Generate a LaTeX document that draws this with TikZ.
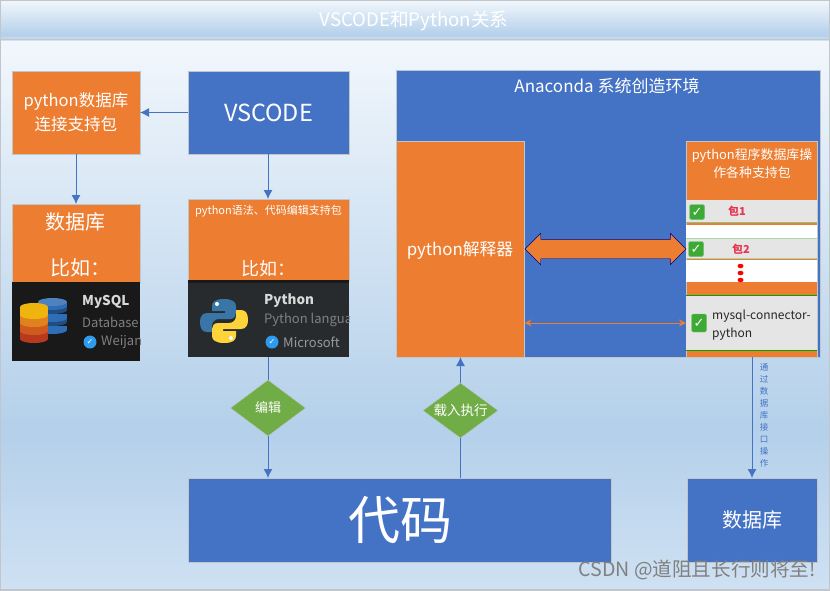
\documentclass[tikz,border=0pt]{standalone}
\usepackage{fontspec}
\usepackage{tikz}
\usetikzlibrary{shapes.geometric,shapes.arrows,arrows.meta}
\setmainfont{Noto Sans CJK SC}
\newfontfamily\symfont{DejaVu Sans}
\definecolor{obar}{HTML}{ED7D31}
\definecolor{bbar}{HTML}{4472C4}
\definecolor{gbar}{HTML}{70AD47}
\definecolor{lline}{HTML}{C0C6CC}
\definecolor{bgtop}{HTML}{F2F7FC}
\definecolor{bgmid}{HTML}{B4D0EA}
\definecolor{bgend}{HTML}{CFE1F3}
\definecolor{icblue}{HTML}{2F6DB5}
\definecolor{icdark}{HTML}{1F4E85}
\definecolor{pyblue}{HTML}{3A75A8}
\definecolor{pyyellow}{HTML}{FFD43B}
\definecolor{icya}{HTML}{EFB40E}
\definecolor{icob}{HTML}{E0821E}
\definecolor{icoc}{HTML}{CF5A1E}
\definecolor{icod}{HTML}{B83A1E}
\definecolor{chkgreen}{HTML}{3DAA35}
\definecolor{pkred}{HTML}{E8344E}
\definecolor{badgeb}{HTML}{2F9BEF}
\newcommand{\pyhalf}{(224,299) .. controls (215,299) and (212,302) .. (212,306) -- (212,311) -- (225,311) -- (225,313) -- (207,313) .. controls (202,313) and (200,317) .. (200,322) .. controls (200,328) and (202,332) .. (207,332) -- (212,332) -- (212,326) .. controls (212,322) and (215,319) .. (219,319) -- (230,319) .. controls (234,319) and (236,316) .. (236,313) -- (236,306) .. controls (236,302) and (232,299) .. (224,299) -- cycle}
\begin{document}
\begin{tikzpicture}[x=1pt,y=-1pt,
    fs/.style 2 args={font=\fontsize{#1}{#2}\selectfont},
    box/.style={draw=lline,text=white,align=center,inner sep=0pt,outer sep=0pt},
    onode/.style={box,fill=obar},
    bnode/.style={box,fill=bbar},
    dnode/.style={diamond,draw=lline,fill=gbar,inner sep=0pt,outer sep=0pt,minimum width=75pt,minimum height=56pt},
    rnode/.style={fill=#1,inner sep=0pt,outer sep=0pt,minimum width=131pt},
    chk/.style={fill=chkgreen,draw=chkgreen!70,rounded corners=1.5pt,text=white,inner sep=0pt,minimum width=15pt,minimum height=15pt,font=\symfont\fontsize{13}{13}\selectfont},
    badge/.style={circle,fill=badgeb,text=white,inner sep=0pt,minimum size=13pt,font=\symfont\fontsize{8}{8}\selectfont},
    arr/.style={draw=bbar,line width=1pt,-{Latex[length=9pt,width=9pt]}}]
    \useasboundingbox (0,0) rectangle (830,590);
    \shade[top color=bgtop,bottom color=bgmid] (0,40) rectangle (830,430);
    \shade[top color=bgmid,bottom color=bgend] (0,430) rectangle (830,590);
    \shade[top color=bgtop,bottom color=bgmid] (0,0) rectangle (830,35);
    \shade[top color=bgmid,bottom color=bgend] (0,35) rectangle (830,40);
    \draw[lline,line width=1.5pt] (0,0) rectangle (830,590);
    \draw[lline,line width=1pt] (0,39.5) -- (830,39.5);
    \node[text=white,fs={18.6}{20}] (title) at (414,21) {VSCODE和Python关系};

    \node[onode,minimum width=128pt,minimum height=83pt,fs={16.5}{24}] (pkgdb) at (76,112.5) {python数据库\\连接支持包};
    \node[bnode,minimum width=161pt,minimum height=83pt,fs={23.5}{26}] (vscode) at (268.5,112.5) {VSCODE};
    \node[onode,minimum width=128pt,minimum height=78pt] (db) at (76,243) {};
    \node[text=white,align=center,fs={20}{46}] (dbt) at (76,245) {数据库\\\hspace*{9pt}比如：};
    \node[onode,minimum width=161pt,minimum height=81pt] (syntax) at (268.5,239.5) {};
    \node[text=white,fs={11}{12}] (syntaxt) at (268.5,211) {python语法、代码编辑支持包};
    \node[text=white,fs={18}{20}] (syntaxk) at (268,269) {比如：};

    \node[fill=black!90,inner sep=0pt,outer sep=0pt,minimum width=128pt,minimum height=79pt] (dbimg) at (76,321.5) {};
    \node[fill={rgb,255:red,39;green,43;blue,45},inner sep=0pt,outer sep=0pt,minimum width=161pt,minimum height=77pt] (pyimg) at (268.5,318.5) {};
    \fill[black!90] (188,280) rectangle (349,283);

    \foreach \yy/\cc in {330/icblue,322/icdark,318/icblue,310/icdark,306/icblue} {
      \fill[\cc] (38,\yy-4) rectangle (67,\yy);
      \fill[\cc] (52.5,\yy) ellipse[x radius=14.5,y radius=4];
    }
    \fill[icblue!85!white] (52.5,302) ellipse[x radius=14.5,y radius=4];
    \foreach \yy/\cc in {339/icod,331/icoc,323/icob,315/icya} {
      \fill[\cc] (20,\yy-8) rectangle (48,\yy);
      \fill[\cc] (34,\yy) ellipse[x radius=14,y radius=4];
    }
    \fill[icya] (34,307) ellipse[x radius=14,y radius=4];

    \begin{scope}
      \clip (12,282) rectangle (140,361);
      \node[anchor=west,inner sep=0pt,text=black!15,fs={13.5}{15}] (dbname) at (82,302) {\bfseries MySQL};
      \node[anchor=west,inner sep=0pt,text=black!50,fs={13}{15}] (dbdesc) at (82,322) {Database};
      \node[anchor=west,inner sep=0pt,text=black!50,fs={13}{15}] (dbauth) at (101,342) {Weijan};
    \end{scope}
    \node[badge] (dbbadge) at (90,342) {✓};

    \fill[pyblue] \pyhalf;
    \fill[pyyellow,rotate around={180:(224,321)}] \pyhalf;
    \fill[white] (217,304) circle (2);
    \fill[white] (231,338) circle (2);
    \begin{scope}
      \clip (189,283) rectangle (349,357);
      \node[anchor=west,inner sep=0pt,text=black!15,fs={13.5}{15}] (pyname) at (264,301) {\bfseries Python};
      \node[anchor=west,inner sep=0pt,text=black!50,fs={13}{15}] (pydesc) at (264,320) {Python language};
      \node[anchor=west,inner sep=0pt,text=black!40,fs={13}{15}] (pyauth) at (283,342) {Microsoft};
    \end{scope}
    \node[badge] (pybadge) at (272,342) {✓};

    \node[bnode,minimum width=424pt,minimum height=287pt] (conda) at (608.5,213.5) {};
    \node[text=white,fs={17}{18}] (condat) at (607,86) {Anaconda 系统创造环境};
    \node[onode,minimum width=128pt,minimum height=216pt] (interp) at (460.5,249) {};
    \node[text=white,fs={16.8}{18}] (interpt) at (460,250) {python解释器};
    \node[onode,minimum width=131pt,minimum height=216pt] (pkgs) at (751.5,249) {};
    \node[text=white,align=center,fs={12.9}{18}] (pkgst) at (752,164) {python程序数据库操\\作各种支持包};
    \node[rnode={black!10},minimum height=23pt] (row1) at (751.5,211) {};
    \node[rnode={white},minimum height=13pt] (row2) at (751.5,231) {};
    \node[rnode={black!10},minimum height=20pt] (row3) at (751.5,248.5) {};
    \node[rnode={white},minimum height=22pt] (row4) at (751.5,271) {};
    \node[rnode={black!10},minimum height=55pt] (row5) at (751.5,322.5) {};
    \draw[green!35!gray!70,line width=1.5pt] (row1.south west) -- (row1.south east);
    \draw[green!35!gray!50,line width=1.5pt] (row3.north west) -- (row3.north east);
    \draw[green!35!gray!50,line width=1.5pt] (row3.south west) -- (row3.south east);
    \draw[green!65!black,line width=1pt] (row5.north west) -- (row5.north east);
    \draw[green!65!black,line width=1pt] (row5.south west) -- (row5.south east);
    \node[chk] (c1) at (697,212) {✓};
    \node[chk] (c2) at (696,249) {✓};
    \node[chk,minimum height=18pt] (c3) at (699,323) {✓};
    \node[text=pkred,fs={11}{12}] (p1) at (737,211) {\bfseries 包1};
    \node[text=pkred,fs={11}{12}] (p2) at (741,249) {\bfseries 包2};
    \foreach \yy [count=\ii] in {266,273,280}
      \node[ellipse,fill=red,inner sep=0pt,minimum width=6pt,minimum height=4.5pt] (dot\ii) at (740.5,\yy) {};
    \node[anchor=west,inner sep=0pt,align=left,text=black!85,fs={12}{18}] (mysqlc) at (712,325) {mysql-connector-\\python};

    \node[double arrow,draw=blue!50!black,fill=obar,inner sep=0pt,outer sep=0pt,minimum height=161pt,double arrow head extend=6pt] (bigarr) at (605.5,249) {\rule{0pt}{19pt}};
    \draw[obar,line width=1pt,{Stealth[length=7pt,width=7pt]}-{Stealth[length=7pt,width=7pt]}] (interp.east |- c3) -- (pkgs.west |- c3);

    \node[bnode,minimum width=423pt,minimum height=84pt,fs={52}{60}] (code) at (400,520) {代码};
    \node[bnode,minimum width=130pt,minimum height=84pt,fs={20}{24}] (dbout) at (752,520) {数据库};
    \node[dnode,label={[text=white,fs={13}{14}]center:编辑}] (edit) at (268,408) {};
    \node[dnode,minimum height=55pt,label={[text=white,fs={13.5}{15}]center:载入执行}] (load) at (460.5,410.5) {};
    \node[text=bbar,align=center,fs={8.5}{12}] (via) at (764,415) {通\\过\\数\\据\\库\\接\\口\\操\\作};
    \node[anchor=east,inner sep=0pt,text=black!50,fs={19.6}{22}] (mark) at (816,570) {CSDN @道阻且长行则将至!};

    \draw[arr] (vscode) -- (pkgdb);
    \draw[arr] (pkgdb) -- (db);
    \draw[arr] (vscode.south -| edit) -- (edit |- syntax.north);
    \draw[draw=bbar,line width=1pt] (edit |- pyimg.south) -- (edit);
    \draw[arr] (edit) -- (edit |- code.north);
    \draw[draw=bbar,line width=1pt] (load |- code.north) -- (load);
    \draw[arr] (load) -- (load |- interp.south);
    \draw[arr] (dbout |- conda.south) -- (dbout);
\end{tikzpicture}
\end{document}
